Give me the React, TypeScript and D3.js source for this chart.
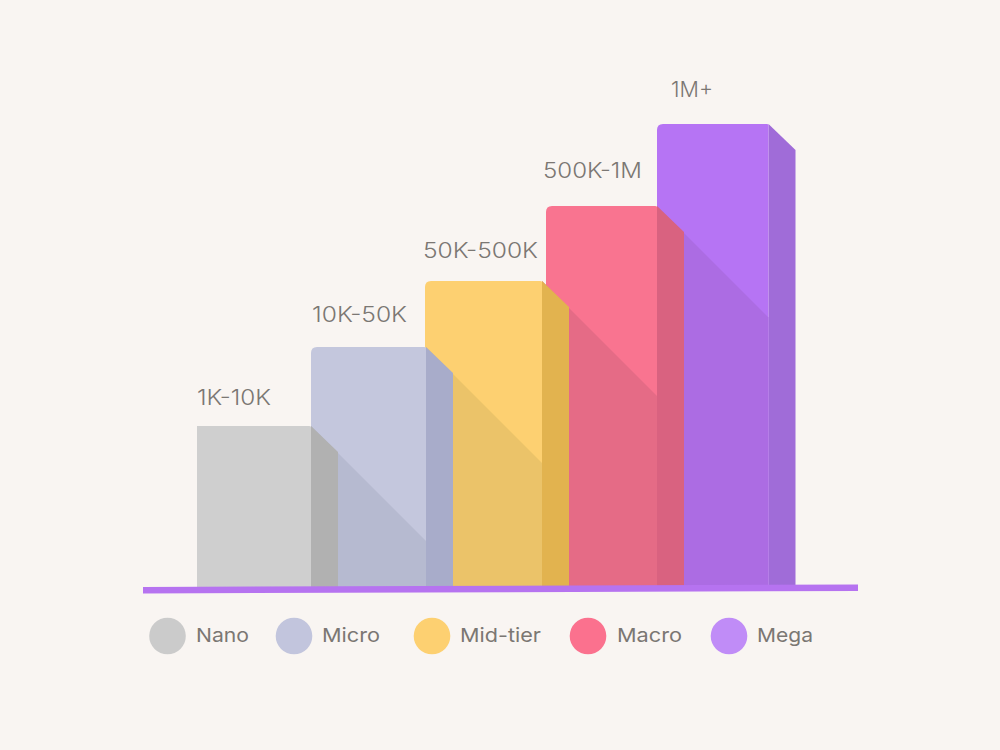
import React from "react";
import * as d3 from "d3";

const tiers = ["Nano", "Micro", "Mid-tier", "Macro", "Mega"];
const ranges = ["1K-10K", "10K-50K", "50K-500K", "500K-1M", "1M+"];
const heights = [161, 240, 306, 381, 463];

const faceColors = ["#cfcfcf", "#c4c7dd", "#fdd071", "#f97490", "#b674f4"];
const sideColors = ["#b1b1b1", "#a8acca", "#e2b34f", "#d96280", "#a06cd8"];
const shadowColors = ["#b6bad0", "#ebc369", "#e56b86", "#ac6ce3"];
const legendColors = ["#cbcbcb", "#c2c5dd", "#fdd071", "#fb718e", "#c08cf7"];

const W = 1000, H = 750, BASE = 587, DEPTH = 27;
const leftNudge = [0, -1, -2, 4, 0];
const rightNudge = [-1, -1, 0, 0, -3.5];
const labelLeft = [197, 312, 423, 543, 671];
const labelRight = [271, 407, 538, 642, 713];
const labelGap = [21, 25, 23, 28, 27];
const legendCx = [167.5, 294, 432, 588, 729];
const legendTextLeft = [196, 322, 460, 617, 757];
const legendTextRight = [249, 380, 541, 682, 813];

const x = d3.scaleBand<string>().domain(tiers).range([197, 772]).padding(0);
const y = d3.scaleLinear().domain([0, 463]).range([BASE, 124]);
const pathOf = d3.line();

const font = "'Inter', 'Lato', sans-serif";
const textColor = "#7b7773";

function facePath(l: number, r: number, t: number, rad: number) {
  return `M${l},${BASE}V${t + rad}Q${l},${t} ${l + rad},${t}H${r - 2}Q${r},${t} ${r},${t + 1}V${BASE}Z`;
}

export default function App() {
  const geo = tiers.map((d, i) => ({
    l: x(d)! + leftNudge[i],
    r: x(d)! + x.bandwidth() + rightNudge[i],
    t: y(heights[i]),
  }));
  const order = d3.range(tiers.length).reverse();
  return (
    <svg
      width={W}
      height={H}
      viewBox={`0 0 ${W} ${H}`}
      style={{ position: "absolute", left: 0, top: 0, display: "block" }}
    >
      <rect width={W} height={H} fill="#f9f5f2" />
      {order.map((i) => {
        const g = geo[i];
        const next = geo[i + 1];
        const dr = next ? next.r - g.r : 0;
        return (
          <g key={tiers[i]}>
            {next && (
              <path
                d={pathOf([
                  [g.r, g.t],
                  [next.r, g.t + dr],
                  [next.r, BASE],
                  [g.r, BASE],
                ])! + "Z"}
                fill={shadowColors[i]}
              />
            )}
            <path
              d={pathOf([
                [g.r, g.t],
                [g.r + DEPTH, g.t + DEPTH - 1],
                [g.r + DEPTH, BASE],
                [g.r, BASE],
              ])! + "Z"}
              fill={sideColors[i]}
            />
            <path
              d={facePath(g.l, g.r, g.t, i === 0 ? 0 : 6)}
              fill={faceColors[i]}
            />
          </g>
        );
      })}
      <line x1={143} y1={590.2} x2={858} y2={587.7} stroke="#b673f0" strokeWidth={6.5} />
      {ranges.map((d, i) => (
        <text
          key={d}
          x={labelLeft[i]}
          y={geo[i].t - labelGap[i]}
          fontFamily={font}
          fontWeight={300}
          fontSize={21}
          fill={textColor}
          textLength={labelRight[i] - labelLeft[i]}
          lengthAdjust="spacingAndGlyphs"
        >
          {d}
        </text>
      ))}
      {tiers.map((d, i) => (
        <g key={d}>
          <circle cx={legendCx[i]} cy={636} r={18.3} fill={legendColors[i]} />
          <text
            x={legendTextLeft[i]}
            y={642}
            fontFamily={font}
            fontWeight={400}
            fontSize={19}
            fill={textColor}
            textLength={legendTextRight[i] - legendTextLeft[i]}
            lengthAdjust="spacingAndGlyphs"
          >
            {d}
          </text>
        </g>
      ))}
    </svg>
  );
}
